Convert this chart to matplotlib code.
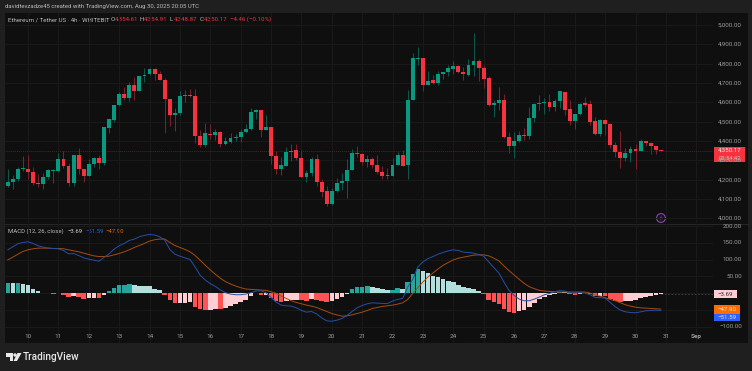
import matplotlib
matplotlib.use('Agg')
import matplotlib.pyplot as plt
from matplotlib.patches import Rectangle, Circle, Polygon

opens = [4165,4186,4205,4253,4257,4240,4184,4177,4212,4246,4246,4305,4271,4183,4327,4255,4219,4281,4312,4286,
         4469,4510,4586,4643,4622,4688,4660,4736,4746,4771,4746,4715,4615,4536,4543,4633,4638,4633,4427,4381,
         4438,4431,4448,4386,4396,4415,4419,4448,4464,4552,4560,4457,4471,4321,4255,4272,4343,4353,4310,4215,
         4233,4305,4188,4140,4074,4140,4183,4191,4250,4340,4333,4290,4309,4276,4241,4224,4221,4274,4328,4274,
         4614,4824,4828,4691,4714,4702,4748,4757,4774,4788,4759,4743,4793,4812,4778,4726,4588,4596,4610,4422,
         4374,4398,4431,4426,4519,4593,4598,4602,4576,4605,4653,4564,4503,4540,4595,4591,4503,4434,4509,4486,
         4379,4345,4312,4338,4357,4350,4400,4390,4374,4354.61]
highs = [4253,4222,4267,4322,4327,4267,4229,4236,4253,4253,4340,4350,4284,4327,4362,4255,4305,4319,4326,4474,
         4515,4588,4655,4678,4707,4733,4736,4776,4776,4778,4764,4724,4617,4571,4660,4664,4667,4667,4457,4491,
         4488,4460,4453,4422,4440,4436,4460,4488,4571,4564,4560,4534,4474,4350,4315,4367,4384,4384,4353,4250,
         4319,4333,4202,4167,4157,4209,4236,4305,4357,4374,4336,4328,4315,4328,4271,4259,4312,4343,4353,4664,
         4853,4885,4828,4764,4740,4764,4759,4795,4815,4795,4785,4824,4957,4826,4795,4736,4612,4681,4643,4447,
         4448,4453,4467,4574,4595,4636,4622,4643,4615,4657,4653,4612,4540,4595,4626,4612,4522,4512,4512,4491,
         4396,4450,4364,4374,4384,4412,4402,4391,4374,4354.91]
lows = [4160,4153,4195,4243,4205,4174,4160,4153,4205,4184,4240,4258,4167,4167,4229,4188,4219,4267,4255,4276,
        4440,4500,4580,4612,4609,4612,4658,4707,4741,4715,4713,4443,4478,4453,4534,4603,4629,4391,4371,4371,
        4409,4405,4371,4377,4391,4402,4395,4440,4457,4515,4422,4455,4279,4231,4222,4271,4298,4302,4212,4190,
        4219,4169,4112,4064,4067,4138,4147,4103,4250,4315,4276,4267,4259,4228,4205,4203,4219,4274,4271,4203,
        4612,4791,4660,4690,4695,4691,4722,4736,4747,4753,4715,4738,4736,4712,4672,4581,4524,4560,4417,4340,
        4314,4397,4405,4409,4498,4560,4540,4557,4553,4571,4534,4481,4464,4536,4574,4481,4433,4426,4431,4364,
        4315,4260,4295,4291,4257,4348,4374,4331,4333,4348.87]
closes = [4188,4205,4253,4260,4240,4183,4179,4215,4250,4252,4305,4271,4183,4327,4255,4219,4283,4312,4286,4471,
          4512,4586,4643,4622,4688,4660,4736,4743,4771,4746,4715,4615,4534,4546,4633,4638,4634,4427,4381,4441,
          4429,4448,4386,4400,4417,4421,4448,4462,4550,4560,4457,4472,4322,4253,4274,4343,4350,4310,4215,4234,
          4305,4188,4138,4072,4141,4183,4193,4252,4340,4333,4291,4309,4276,4240,4221,4221,4274,4328,4272,4614,
          4828,4829,4691,4710,4700,4747,4757,4776,4786,4757,4745,4793,4812,4778,4722,4586,4595,4612,4419,4374,
          4400,4431,4426,4519,4593,4598,4600,4576,4607,4657,4562,4503,4540,4593,4588,4500,4434,4509,4486,4379,
          4343,4312,4338,4357,4350,4400,4391,4376,4352,4350.17]

hist = [31,30,31,28,24,12,5,1,-0.5,-1.5,-1,-5,-12,-8,-12,-18,-16,-14,-15,-5,
        6,15,23,24,26,23,22,21,20,13,8,-5,-20,-30,-29,-28.5,-28,-42,-49,-50,
        -49.5,-47,-47.5,-45,-40,-33,-28,-20,-10,-1,-5,-4.5,-14,-25,-28,-24,-21,-20,-22,-23,
        -17,-20,-24,-27,-25,-19,-12,-2,11,17,19,20,19,15,12,8,10,14,13,33,
        58,72,65,60,52,47,41,37,33,25,18,15,11,5,-3,-20,-28,-32,-47,-57,
        -59,-55,-52,-42,-30,-19,-12,-7,-2,3,2.5,-3,-5,-2,-1,-2,-10,-9,-10,-18,
        -24,-26,-25,-24.5,-21,-16,-12,-8,-6,-3.69]
macd = [129,138,147,151,153,148,141,137,134,133,132,127,117,118,112,105,101,98,95,106,
        117,131,141,148,157,161,168,172,175,173,168,158,130,116,110,105,100,78,53,39,
        28,20,9,1,-3,-5,-5,-3,1,6,7,1,-13,-27,-36,-38,-39,-44,-52,-57,
        -55,-62,-74,-83,-84,-81,-76,-67,-55,-44,-37,-32,-29,-30,-31,-31,-24,-19,-16,18,
        41,78,93,103,109,116,121,126,129,127,122,121,119,115,110,93,76,60,33,8,
        -7,-18,-23,-23,-18,-12,-5,-1,4,7,6,1,0,1,0,-5,-13,-14,-15,-28,
        -41,-51,-56,-58,-59,-56,-53,-52,-51,-51.59]
signal = [99,107,116,124,129,132,134,134,134,133,133,132,129,126,123,119,115,111,109,109,
          110,114,118,123,129,136,142,148,155,159,161,161,151,142,136,130,123,112,98,83,
          69,56,44,34,27,21,16,12,11,10,9,8,4,-1,-9,-16,-23,-28,-32,-36,
          -39,-43,-49,-55,-61,-65,-69,-68,-65,-61,-57,-52,-46,-43,-40,-38,-36,-33,-29,-19,
          -1,16,33,48,60,72,83,91,99,104,107,110,113,114,114,111,104,96,81,67,
          54,41,29,19,13,8,6,5,4,3,3,3,3,3,3,0,-6,-9,-14,-19,
          -23,-29,-35,-39,-42,-44,-45,-46,-47,-47.9]

day_labels = ['10','11','12','13','14','15','16','17','18','19','20','21','22','23','24','25','26','27','28','29','30','31','Sep']
price_ticks = [4000,4100,4200,4300,4400,4500,4600,4700,4800,4900,5000]
macd_ticks = [-100,-50,0,50,100,150,200]

UP, DOWN = '#089981', '#f7323f'
BG, PANEL, GRID, LABEL = '#1f1f1f', '#0f0f0f', '#1a1a1a', '#9c9c9c'
TEXT = '#bcbcbc'
plt.rcParams['font.family'] = ['Roboto', 'DejaVu Sans']

W, H = 752, 371
fig = plt.figure(figsize=(W / 100, H / 100), dpi=100, facecolor=BG)


def axes_px(x0, y0, x1, y1):
    return fig.add_axes([x0 / W, 1 - y1 / H, (x1 - x0) / W, (y1 - y0) / H])


# dark panel behind both panes and the scale
deco = axes_px(0, 0, W, H)
deco.set_xlim(0, W)
deco.set_ylim(H, 0)
deco.axis('off')
deco.add_patch(Rectangle((5, 13), 743, 330, fc=PANEL, ec='none'))
deco.plot([5, 748], [223.5, 223.5], color='#262626', lw=0.8)

ax = axes_px(5, 13, 713, 223)
ax2 = axes_px(5, 224, 713, 343)
idx = list(range(-4, 126))
day_pos = [i * 6 for i in range(len(day_labels))]

for a in (ax, ax2):
    a.patch.set_alpha(0)
    a.set_xlim(-4.55, 135.3)
    a.set_xticks(day_pos)
    a.grid(color=GRID, lw=0.7)
    a.set_axisbelow(True)
    a.tick_params(length=0, labelbottom=False, labelleft=False)
    for s in a.spines.values():
        s.set_visible(False)

# candles
ax.set_ylim(3976, 5062)
ax.set_yticks(price_ticks)
ax.axhline(closes[-1], color='#5a1c22', lw=0.7, ls=(0, (1, 1)))
for i, o, h, l, c in zip(idx, opens, highs, lows, closes):
    up = c >= o
    ax.vlines(i, l, h, color='#0c5c4c' if up else '#7c222c', lw=0.7, zorder=2)
    ax.bar(i, max(abs(c - o), 3), bottom=min(o, c), width=0.76,
           color=UP if up else DOWN, lw=0, zorder=3)

# macd pane
ax2.set_ylim(-149, 206)
ax2.set_yticks(macd_ticks)
for n, (i, v) in enumerate(zip(idx, hist)):
    prev = hist[n - 1] if n else v - 1
    if v >= 0:
        col = '#26a69a' if v > prev else '#b2dfdb'
    else:
        col = '#ff5252' if v < prev else '#ffcdd2'
    ax2.bar(i, v, width=0.9, color=col, lw=0, zorder=2)
ax2.plot([125, 135.3], [hist[-1], hist[-1]], color='#444444', lw=0.6, ls=(0, (2, 2)))
ax2.plot(idx, signal, color='#a84b10', lw=0.7, zorder=3)
ax2.plot(idx, macd, color='#2450a8', lw=0.7, zorder=4)

for d, lab in zip(day_pos, day_labels):
    ax2.annotate(lab, (d, 0), xycoords=('data', 'axes fraction'), xytext=(0, 4.5),
                 textcoords='offset points', ha='center', va='center', fontsize=4.6,
                 color=LABEL, fontweight='bold' if lab == 'Sep' else 'normal')
for t in price_ticks:
    ax.annotate(f'{t:,.2f}', (1, t), xycoords=('axes fraction', 'data'), xytext=(20.8, 0),
                textcoords='offset points', ha='right', va='center', fontsize=4.5, color=LABEL)
for t in macd_ticks:
    if t in (0, -50):
        continue
    txt = f'{t:.2f}'.replace('-', '\u2212')
    ax2.annotate(txt, (1, t), xycoords=('axes fraction', 'data'), xytext=(20.8, 0),
                 textcoords='offset points', ha='right', va='center', fontsize=4.5, color=LABEL)

# header texts
deco.text(5, 6.5, 'davidtevzadze45 created with TradingView.com, Aug 30, 2025 20:05 UTC',
          fontsize=4.35, color=TEXT, va='center')
deco.text(8.3, 19.5, 'Ethereum / Tether US \u00b7 4h \u00b7 WHITEBIT', fontsize=4.4, color=TEXT, va='center')
for x, s, col in [(110.5, 'O', TEXT), (114.5, '4,354.61', DOWN), (140, 'H', TEXT),
                  (144, '4,354.91', DOWN), (169.5, 'L', TEXT), (173.5, '4,348.87', DOWN),
                  (200, 'C', TEXT), (204, '4,350.17', DOWN), (230, '\u22124.46 (\u22120.10%)', DOWN)]:
    deco.text(x, 19.5, s, fontsize=4.4, color=col, va='center')

deco.text(8.3, 231.5, 'MACD (12, 26, close)', fontsize=4.3, color=TEXT, va='center')
deco.text(67, 231.5, '\u22123.69', fontsize=4.3, color='#d8d0d0', va='center')
deco.text(85, 231.5, '\u221251.59', fontsize=4.3, color='#2c62d8', va='center')
deco.text(106, 231.5, '\u221247.90', fontsize=4.3, color='#d8680c', va='center')

# scale badges
for y0, y1, x1, col, tcol, s in [(147, 162, 745, '#f7323f', '#ffd9dc', None),
                                 (290, 298, 737, '#ffcdd2', '#333333', '\u22123.69'),
                                 (305, 313.5, 740, '#ff6d00', '#ffe8d8', '\u221247.90'),
                                 (313.5, 321, 740, '#2962ff', '#dfe8ff', '\u221251.59')]:
    deco.add_patch(Rectangle((714, y0), x1 - 714, y1 - y0, fc=col, ec='none', zorder=5))
    if s:
        deco.text((714 + x1) / 2, (y0 + y1) / 2, s, fontsize=4.4, color=tcol, ha='center', va='center', zorder=6)
deco.text(729.5, 150.6, '4,350.17', fontsize=4.4, color='#ffe4e6', ha='center', va='center', zorder=6)
deco.text(729.5, 158, '03:54:42', fontsize=4.2, color='#ffb4ba', ha='center', va='center', zorder=6)

# bolt icon
deco.add_patch(Circle((661, 218), 4.4, fc='#1a1020', ec='#8e44ad', lw=0.8, zorder=5))
deco.add_patch(Polygon([(662, 215), (659.5, 218.5), (661, 218.5), (660, 221), (662.5, 217.5), (661, 217.5)],
                       fc='#8e44ad', ec='none', zorder=6))

# logo
deco.add_patch(Polygon([(5.5, 353), (13, 353), (13, 361), (9.5, 361), (9.5, 356.5), (5.5, 356.5)], fc='#e8e8e8', ec='none'))
deco.add_patch(Circle((15, 355), 1.7, fc='#e8e8e8', ec='none'))
deco.add_patch(Polygon([(17.5, 353), (21.5, 353), (17, 361), (13.5, 361)], fc='#e8e8e8', ec='none'))
deco.text(23, 357.3, 'TradingView', fontsize=7.2, color='#e8e8e8', va='center', fontweight='medium')

fig.savefig('out.png', dpi=100, facecolor=BG)
